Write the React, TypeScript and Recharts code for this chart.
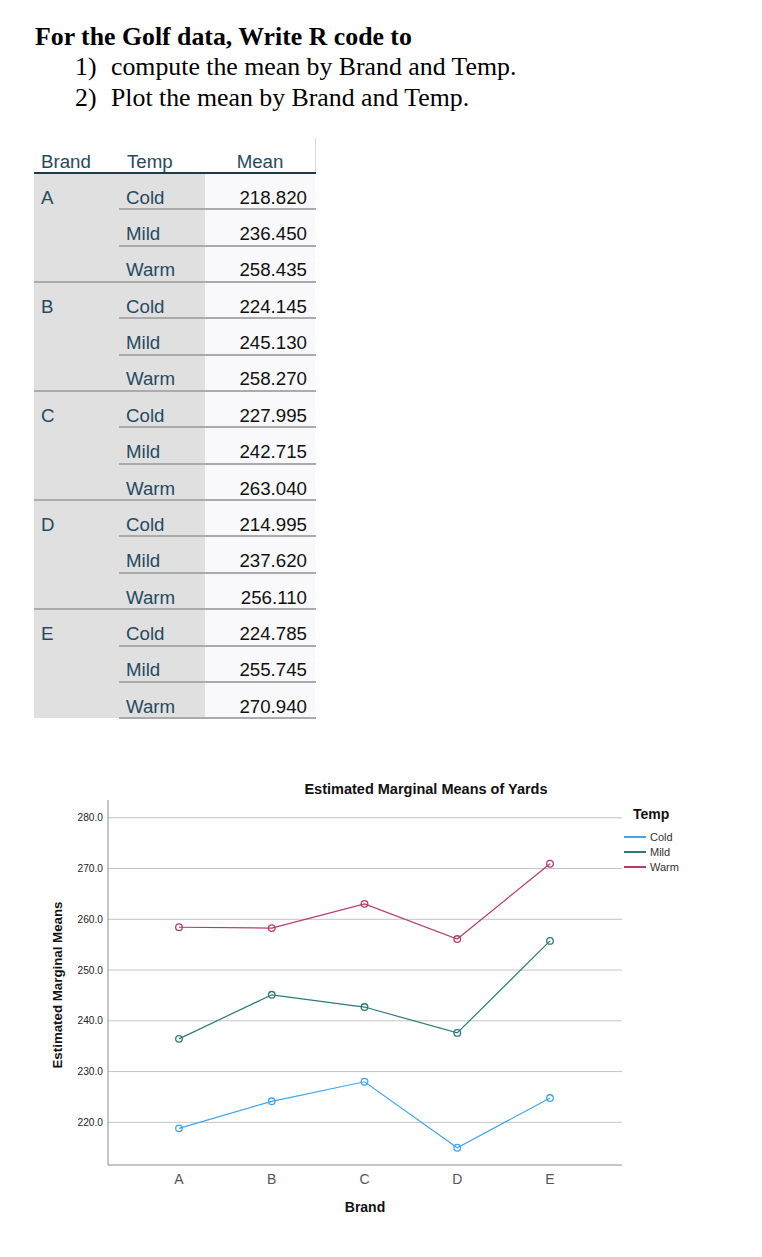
import React from "react";
import {
  LineChart,
  Line,
  XAxis,
  YAxis,
  CartesianGrid,
  Legend,
} from "recharts";

const brands = ["A", "B", "C", "D", "E"];
const temps = ["Cold", "Mild", "Warm"];
const coldMeans = [218.82, 224.145, 227.995, 214.995, 224.785];
const mildMeans = [236.45, 245.13, 242.715, 237.62, 255.745];
const warmMeans = [258.435, 258.27, 263.04, 256.11, 270.94];
const yTicks = [220, 230, 240, 250, 260, 270, 280];

const colors: Record<string, string> = {
  Cold: "#3ea5ee",
  Mild: "#2b7a78",
  Warm: "#b73a6c",
};

const sans = "Arial, 'Liberation Sans', sans-serif";
const serif = "'Times New Roman', 'Liberation Serif', serif";

// one row per brand for the chart
const chartData = brands.map((b, i) => ({
  brand: b,
  Cold: coldMeans[i],
  Mild: mildMeans[i],
  Warm: warmMeans[i],
}));

// flat rows for the table
const tableRows = brands.flatMap((b, i) =>
  temps.map((t, j) => ({
    brand: j === 0 ? b : "",
    temp: t,
    mean: [coldMeans, mildMeans, warmMeans][j][i],
    lastInBrand: j === 2,
  }))
);

const ROW_H = 36.35;
const FIRST_TEXT = 197.7;
const FIRST_LINE = 209.3;

function MeansTable() {
  const abs = (s: React.CSSProperties): React.CSSProperties => ({
    position: "absolute",
    ...s,
  });
  const txt: React.CSSProperties = {
    fontFamily: sans,
    fontSize: 18.7,
    lineHeight: "22px",
    whiteSpace: "nowrap",
  };
  const bottom = FIRST_LINE + ROW_H * (tableRows.length - 1);
  return (
    <>
      <div style={abs({ left: 315, top: 138, width: 1, height: 34, background: "#dcdcdc" })} />
      <div style={abs({ ...txt, left: 41, top: 150.7, color: "#264a60" })}>Brand</div>
      <div style={abs({ ...txt, left: 127, top: 150.7, color: "#264a60" })}>Temp</div>
      <div style={abs({ ...txt, left: 205, width: 110, textAlign: "center", top: 150.7, color: "#264a60" })}>
        Mean
      </div>
      <div style={abs({ left: 34, top: 174, width: 171, height: bottom - 174, background: "#e0e0e0" })} />
      <div style={abs({ left: 205, top: 174, width: 110, height: bottom - 174, background: "#f9f9fb" })} />
      <div style={abs({ left: 34, top: 171.5, width: 282, height: 2, background: "#1e3a4a" })} />
      {tableRows.map((r, i) => {
        const ty = FIRST_TEXT + ROW_H * i - 11;
        const ly = FIRST_LINE + ROW_H * i - 1;
        const full = r.lastInBrand && i < tableRows.length - 1;
        return (
          <React.Fragment key={i}>
            {r.brand && (
              <div style={abs({ ...txt, left: 41, top: ty, color: "#264a60" })}>{r.brand}</div>
            )}
            <div style={abs({ ...txt, left: 126, top: ty, color: "#264a60" })}>{r.temp}</div>
            <div style={abs({ ...txt, left: 205, width: 102, textAlign: "right", top: ty, color: "#111" })}>
              {r.mean.toFixed(3)}
            </div>
            <div
              style={abs({
                left: full ? 34 : 119,
                top: ly,
                width: full ? 282 : 197,
                height: 2,
                background: "#ababab",
              })}
            />
          </React.Fragment>
        );
      })}
    </>
  );
}

function TempLegend({ payload }: any) {
  return (
    <div style={{ fontFamily: sans, color: "#333" }}>
      <div style={{ fontWeight: "bold", fontSize: 14, lineHeight: "16px", marginLeft: 11, color: "#111" }}>
        Temp
      </div>
      <div style={{ height: 7.5 }} />
      {(payload || []).map((p: any) => (
        <div key={p.value} style={{ display: "flex", alignItems: "center", height: 15, fontSize: 11 }}>
          <div style={{ width: 22, height: 1.5, background: p.color, marginLeft: 2, marginRight: 4 }} />
          <span>{p.value}</span>
        </div>
      ))}
    </div>
  );
}

export default function App() {
  const q: React.CSSProperties = {
    position: "absolute",
    fontFamily: serif,
    fontSize: 25.8,
    lineHeight: "31px",
    whiteSpace: "nowrap",
  };
  return (
    <div style={{ position: "absolute", left: 0, top: 0, width: 762, height: 1257, background: "#fff" }}>
      {/* question text */}
      <div style={{ ...q, left: 35, top: 21, fontWeight: "bold" }}>For the Golf data, Write R code to</div>
      <div style={{ ...q, left: 75, top: 51 }}>1)</div>
      <div style={{ ...q, left: 111, top: 51 }}>compute the mean by Brand and Temp.</div>
      <div style={{ ...q, left: 75, top: 82 }}>2)</div>
      <div style={{ ...q, left: 111, top: 82 }}>Plot the mean by Brand and Temp.</div>

      <MeansTable />

      {/* chart */}
      <div style={{ position: "absolute", left: 0, top: 760 }}>
        <div style={{ position: "absolute", left: 226, top: 20, width: 400, textAlign: "center", fontFamily: sans, fontSize: 14.5, fontWeight: "bold", lineHeight: "18px", color: "#111" }}>
          Estimated Marginal Means of Yards
        </div>
        <div
          style={{
            position: "absolute",
            left: 57.5 - 100,
            top: 225 - 8,
            width: 200,
            textAlign: "center",
            transform: "rotate(-90deg)",
            fontFamily: sans,
            fontSize: 13.3,
            fontWeight: "bold",
            lineHeight: "16px",
            color: "#111",
            whiteSpace: "nowrap",
          }}
        >
          Estimated Marginal Means
        </div>
        <LineChart
          width={762}
          height={470}
          data={chartData}
          margin={{ top: 40, right: 140, bottom: 35, left: 48 }}
          style={{ fontFamily: sans }}
        >
          <CartesianGrid vertical={false} horizontalValues={yTicks} stroke="#c4c4c4" />
          <XAxis
            dataKey="brand"
            padding={{ left: 71, right: 72 }}
            stroke="#8a8a8a"
            tickLine={false}
            tickSize={0}
            tickMargin={9}
            height={30}
            fontSize={14}
            tick={{ fontSize: 14, fill: "#555" }}
            label={{ value: "Brand", position: "bottom", offset: 7, fontSize: 14, fontWeight: "bold", fill: "#111" }}
          />
          <YAxis
            type="number"
            domain={[211.6, 283.5]}
            ticks={yTicks}
            width={60}
            stroke="#8a8a8a"
            tickLine={false}
            tickSize={0}
            tickMargin={5}
            fontSize={10.2}
            tickFormatter={(v: number) => v.toFixed(1)}
            tick={{ fontSize: 10.2, fill: "#222" }}
          />
          <Legend
            layout="vertical"
            align="center"
            verticalAlign="middle"
            content={<TempLegend />}
            wrapperStyle={{ left: 622, top: 46, width: "auto" }}
          />
          {temps.map((t) => (
            <Line
              key={t}
              dataKey={t}
              stroke={colors[t]}
              strokeWidth={1.2}
              dot={{ r: 3.3, fill: "none", stroke: colors[t], strokeWidth: 1.3 }}
              isAnimationActive={false}
            />
          ))}
        </LineChart>
      </div>
    </div>
  );
}
